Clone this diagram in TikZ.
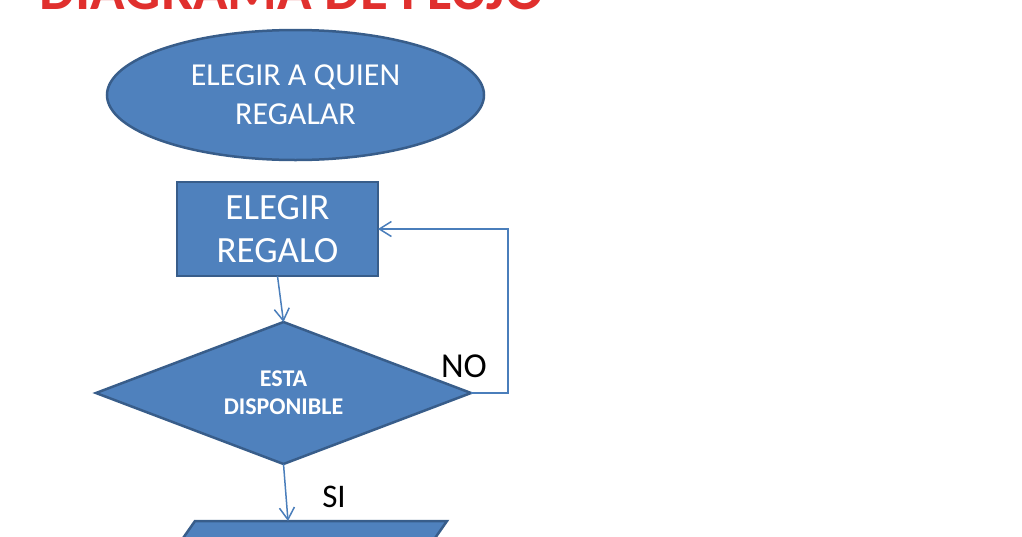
\documentclass[tikz,border=0pt]{standalone}
\usepackage{fontspec}
\setmainfont{Carlito}
\usetikzlibrary{shapes.geometric,arrows.meta}
\definecolor{boxfill}{HTML}{4F81BD}
\definecolor{boxline}{HTML}{385D8A}
\definecolor{arrline}{HTML}{4A7EBB}
\definecolor{titlered}{HTML}{E0302E}

\begin{document}
\begin{tikzpicture}[x=1pt,y=-1pt,>={Straight Barb[length=12pt,width=15pt]},
	blockbox/.style={draw=boxline,line width=2.5pt,fill=boxfill,text=white,align=center,inner sep=0pt,outer sep=0pt},
	link/.style={->,draw=arrline,line width=1.5pt}]
	\useasboundingbox (0,0) rectangle (1022,536);
	\clip (0,0) rectangle (1022,536);
	\node [anchor=base,text=titlered,font=\fontsize{57}{60}\selectfont\bfseries] at (292,9) (Title) {DIAGRAMA DE FLUJO};
	\node [blockbox,ellipse,minimum width=377pt,minimum height=130pt,font=\fontsize{32}{39}\selectfont] at (295.5,95) (Who) {ELEGIR A QUIEN\\REGALAR};
	\node [blockbox,rectangle,minimum width=201pt,minimum height=94pt,font=\fontsize{37}{43}\selectfont] at (277.5,229) (Pick) {ELEGIR\\REGALO};
	\node [blockbox,diamond,aspect=2.6,minimum width=375pt,minimum height=142pt,font=\fontsize{24}{28}\selectfont\bfseries] at (283.5,393) (Check) {ESTA\\DISPONIBLE};
	% parallelogram, cut off by the page edge
	\draw [blockbox,line join=miter] (195,521) -- (447,521) -- (391,601) -- (139,601) -- cycle;
	\coordinate (Buy) at (288,521);
	\draw [link] (Pick.south) -- (Check.north);
	\draw [link] (Check.east) -- ++(37,0) |- (Pick.east);
	\draw [link] (Check.south) -- (Buy);
	\node [font=\fontsize{35}{40}\selectfont] at (464,366) (No) {NO};
	\node [font=\fontsize{33}{38}\selectfont] at (334,497) (Yes) {SI};
\end{tikzpicture}
\end{document}
